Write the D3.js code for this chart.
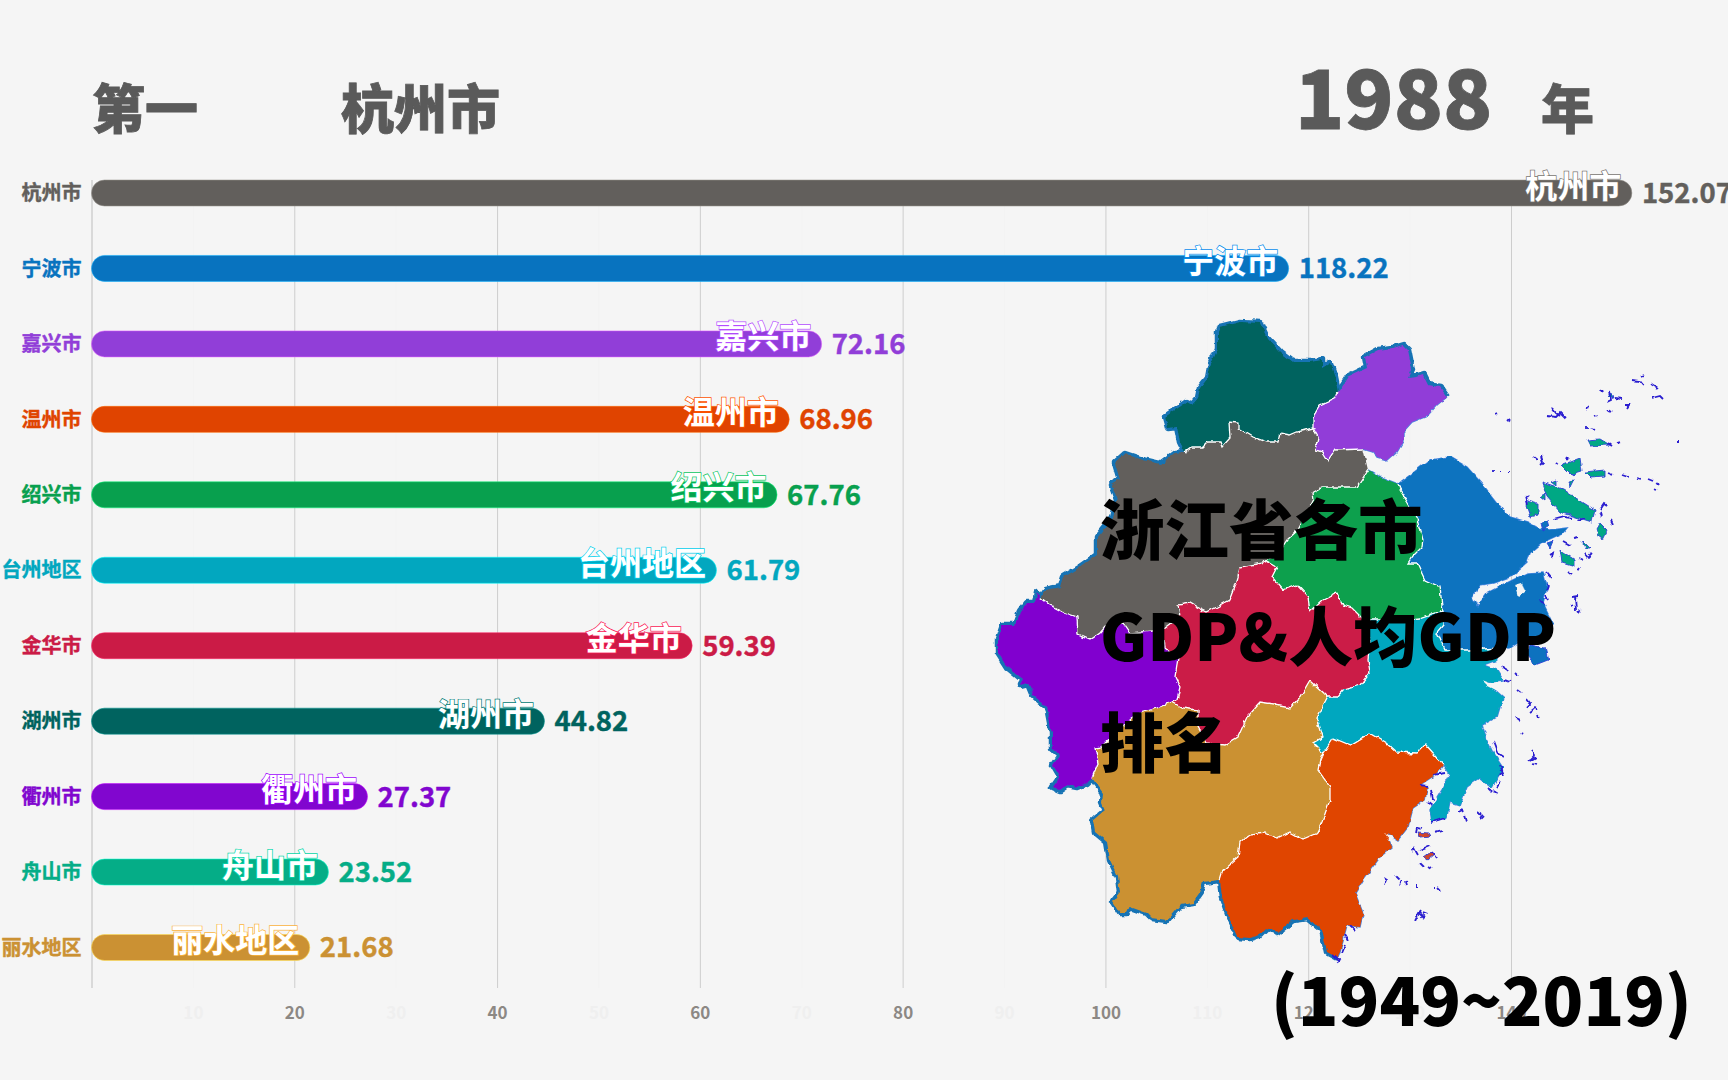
<!DOCTYPE html>
<html>
<head>
<meta charset="utf-8">
<script src="https://cdn.jsdelivr.net/npm/d3@7"></script>
<style>
  html, body { margin: 0; padding: 0; background: #f5f5f5; overflow: hidden; }
  svg { display: block; font-family: "Noto Sans CJK SC", "Noto Sans", sans-serif; }
</style>
</head>
<body>
<div id="chart"></div>
<script>
const categories = ["杭州市", "宁波市", "嘉兴市", "温州市", "绍兴市", "台州地区", "金华市", "湖州市", "衢州市", "舟山市", "丽水地区"];
const values = [152.07, 118.22, 72.16, 68.96, 67.76, 61.79, 59.39, 44.82, 27.37, 23.52, 21.68];
const colors = ["#625f5c", "#0873bf", "#913ed8", "#e04400", "#08a04e", "#02a7bf", "#cb1b46", "#00635f", "#8106cf", "#05ad87", "#cb9133"];
const majorTicks = [20, 40, 60, 80, 100, 120, 140];
const fadingTicks = [10, 30, 50, 70, 90, 110, 130];
const year = "1988";
const overlayLines = ["浙江省各市", "GDP&人均GDP", "排名"];

// map borders, each runs between two junctions so that neighbours share it
const huzhouOuter = [[1338,392],[1335,377],[1330,363],[1322,368],[1322,360],[1310,362],[1293,362],[1280,352],[1267,338],[1260,323],[1240,322],[1220,327],[1218,332],[1218,348],[1210,367],[1208,378],[1200,388],[1198,398],[1192,405],[1187,402],[1178,408],[1165,417],[1168,428],[1177,427],[1180,442],[1185,452]];
const huzhouHangzhou = [[1185,452],[1192,447],[1203,447],[1208,442],[1220,442],[1222,447],[1230,438],[1229,422],[1238,423],[1238,428],[1253,437],[1267,442],[1278,442],[1280,433],[1290,435],[1297,432],[1313,428]];
const huzhouJiaxing = [[1313,428],[1313,417],[1320,405],[1335,398],[1338,392]];
const jiaxingOuter = [[1338,392],[1348,377],[1367,368],[1365,357],[1378,350],[1393,348],[1403,345],[1408,350],[1412,370],[1408,378],[1417,377],[1423,375],[1428,385],[1440,387],[1447,397],[1437,405],[1427,416],[1412,422],[1403,432],[1403,442],[1397,452],[1387,461],[1377,458],[1373,452],[1363,449]];
const jiaxingHangzhou = [[1363,449],[1335,450],[1328,460],[1323,452],[1315,450],[1318,437],[1313,428]];
const hangzhouCoast = [[1363,449],[1368,470]];
const hangzhouShaoxing = [[1368,470],[1357,487],[1333,487],[1323,487],[1312,493],[1313,500],[1298,530],[1287,540],[1277,555],[1265,560]];
const hangzhouJinhua = [[1265,560],[1263,563],[1240,567],[1238,577],[1235,587],[1230,600],[1217,607],[1207,612],[1197,607],[1190,603],[1178,605],[1180,617],[1163,630]];
const hangzhouQuzhou = [[1163,630],[1130,633],[1123,623],[1105,627],[1100,633],[1090,640],[1078,635],[1077,617],[1063,612],[1050,605],[1040,597]];
const hangzhouOuter = [[1040,597],[1045,590],[1060,587],[1063,577],[1080,567],[1097,555],[1097,537],[1113,517],[1117,500],[1112,485],[1120,480],[1115,463],[1125,454],[1143,460],[1160,464],[1175,453],[1185,452]];
const shaoxingOuter = [[1368,470],[1380,477],[1398,484]];
const shaoxingNingbo = [[1398,484],[1400,490],[1408,503],[1418,520],[1423,540],[1422,547],[1412,557],[1408,563],[1417,563],[1425,580],[1440,587],[1442,607],[1443,610]];
const shaoxingTaizhou = [[1443,610],[1420,618],[1401,620],[1364,620]];
const shaoxingJinhua = [[1364,620],[1352,608],[1343,605],[1337,593],[1323,600],[1310,612],[1308,597],[1297,585],[1283,590],[1272,577],[1277,567],[1265,560]];
const ningboOuter = [[1398,484],[1413,473],[1430,460],[1450,457],[1467,467],[1483,485],[1497,503],[1510,517],[1527,522],[1538,528],[1550,530],[1567,528],[1563,533],[1543,542],[1530,553],[1527,562],[1510,577],[1493,583],[1480,585],[1472,597],[1477,607],[1487,593],[1507,583],[1527,573],[1543,572],[1547,587],[1543,603],[1553,623],[1540,636],[1522,640],[1510,648],[1500,648]];
const taizhouNingbo = [[1443,610],[1443,625],[1437,632],[1445,650],[1470,650],[1500,648]];
const taizhouOuter = [[1500,648],[1497,660],[1483,665],[1497,670],[1503,680],[1487,683],[1503,697],[1497,717],[1482,725],[1487,740],[1493,753],[1503,768],[1492,787],[1480,778],[1467,787],[1460,805],[1450,802],[1447,817],[1432,822],[1430,810],[1442,790],[1450,775],[1443,765]];
const taizhouWenzhou = [[1443,765],[1425,745],[1417,753],[1397,752],[1387,743],[1370,733],[1350,745],[1333,738],[1323,753]];
const taizhouLishui = [[1323,753],[1313,743],[1323,737],[1317,718],[1328,697]];
const taizhouJinhua = [[1328,697],[1337,697],[1343,690],[1360,685],[1370,672],[1368,660],[1370,640],[1364,620]];
const wenzhouOuter = [[1443,765],[1435,775],[1420,785],[1427,787],[1425,800],[1413,808],[1408,827],[1398,840],[1387,833],[1392,847],[1380,857],[1363,880],[1355,893],[1363,913],[1360,927],[1347,925],[1343,940],[1338,958],[1327,952],[1322,930],[1307,918],[1293,920],[1278,932],[1267,928],[1260,935],[1250,938],[1238,937],[1230,920],[1222,897],[1220,880]];
const wenzhouLishui = [[1220,880],[1223,870],[1238,857],[1240,843],[1250,835],[1265,833],[1277,838],[1290,832],[1303,839],[1317,833],[1322,822],[1330,800],[1330,787],[1318,770],[1320,760],[1323,753]];
const lishuiOuter = [[1220,880],[1203,882],[1200,893],[1193,903],[1180,905],[1167,920],[1152,918],[1147,913],[1130,907],[1127,913],[1120,913],[1113,902],[1120,893],[1118,877],[1110,860],[1107,842],[1095,832],[1093,820],[1105,810],[1102,803],[1103,793],[1092,778]];
const lishuiQuzhou = [[1092,778],[1098,763],[1095,748],[1102,747],[1125,725],[1140,713],[1157,708],[1172,702]];
const lishuiJinhua = [[1172,702],[1183,708],[1198,710],[1198,727],[1207,743],[1225,745],[1238,737],[1247,717],[1260,703],[1280,706],[1290,708],[1300,697],[1310,680],[1328,697]];
const jinhuaQuzhou = [[1163,630],[1165,647],[1178,658],[1175,677],[1180,688],[1177,700],[1172,702]];
const quzhouOuter = [[1092,778],[1087,783],[1077,787],[1067,785],[1060,790],[1053,787],[1060,777],[1053,765],[1060,755],[1052,748],[1052,733],[1047,707],[1033,695],[1028,683],[1020,685],[1023,680],[1007,667],[998,653],[998,640],[1003,625],[1015,625],[1020,612],[1027,603],[1035,603],[1037,593],[1040,597]];

// Zhoushan and the other bigger islands
const tealIslands = [
  [[1542,483],[1563,490],[1595,510],[1592,522],[1560,512],[1547,497]],
  [[1528,500],[1538,503],[1538,515],[1530,517],[1526,505]],
  [[1562,465],[1580,458],[1582,472],[1572,475]],
  [[1587,440],[1600,439],[1610,445],[1590,446]],
  [[1585,472],[1605,470],[1605,476],[1590,477]],
  [[1600,523],[1607,530],[1602,540],[1596,530]],
  [[1582,540],[1590,548],[1586,548]],
  [[1560,550],[1575,560],[1575,566],[1562,562]],
  [[1540,496],[1545,494],[1545,500]],
  [[1551,482],[1556,480],[1556,486]],
  [[1569,481],[1575,480],[1571,488]],
  [[1608,397],[1612,392],[1614,398]]
];
const blueIslands = [
  [[1530,645],[1545,648],[1548,660],[1535,665],[1527,655]],
  [[1541,522],[1547,520],[1549,527],[1543,530]],
  [[1547,543],[1553,541],[1550,548]]
];
const redIslands = [
  [[1418,832],[1428,833],[1430,836],[1420,837]],
  [[1424,857],[1431,852],[1434,855],[1428,860]]
];
const bays = [
  [[1515,585],[1522,583],[1525,592],[1518,597]],
  [[1482,680],[1490,683],[1502,690],[1498,691],[1488,686]],
  [[1384,833],[1392,837],[1396,842],[1390,840]]
];
const speckles = [
  [[1632,380],[1640,381],[1644,386]],[[1642,376],[1644,375]],[[1650,383],[1658,388]],[[1652,398],[1660,396],[1663,399]],
  [[1601,390],[1602,392]],[[1610,390],[1612,400],[1608,402]],[[1615,398],[1622,399]],[[1625,405],[1629,405],[1627,408]],
  [[1587,410],[1589,407]],[[1595,417],[1598,416]],[[1607,410],[1610,412]],[[1552,408],[1556,413],[1560,416]],
  [[1548,416],[1556,417],[1560,413],[1565,418]],[[1495,414],[1497,413]],[[1508,421],[1510,419]],[[1585,428],[1589,428]],
  [[1592,428],[1594,429]],[[1608,443],[1612,446]],[[1617,443],[1620,442]],[[1678,442],[1679,442]],
  [[1533,457],[1537,460]],[[1541,456],[1543,462],[1540,465]],[[1556,463],[1558,465]],[[1567,460],[1568,458]],
  [[1493,469],[1493,472]],[[1500,471],[1501,471]],[[1509,472],[1510,472]],[[1608,473],[1613,475]],[[1622,475],[1628,477]],
  [[1637,478],[1641,479]],[[1647,478],[1652,480]],[[1657,482],[1659,485]],[[1654,490],[1657,491]],
  [[1525,498],[1528,495]],[[1527,505],[1525,497]],[[1600,510],[1604,504],[1607,506]],[[1602,516],[1600,512]],
  [[1553,520],[1565,517],[1573,518]],[[1578,520],[1585,518]],[[1611,520],[1613,524]],[[1573,538],[1578,537]],
  [[1563,542],[1570,546]],[[1585,553],[1588,557],[1592,553]],[[1578,558],[1583,560]],[[1580,567],[1578,570]],
  [[1550,555],[1553,553],[1552,558]],[[1568,572],[1572,575]],[[1572,598],[1578,597]],[[1573,605],[1570,606]],
  [[1575,598],[1576,610]],[[1578,610],[1580,612]],[[1546,572],[1551,578]],[[1548,585],[1546,590]],[[1546,596],[1548,600]],
  [[1540,600],[1544,604]],[[1503,665],[1508,672]],[[1505,680],[1510,682]],[[1515,672],[1518,675]],[[1518,690],[1522,693]],
  [[1526,708],[1530,704],[1527,700]],[[1530,712],[1535,708],[1538,710]],[[1515,718],[1520,720]],[[1537,715],[1538,718]],
  [[1522,733],[1523,734]],[[1532,750],[1535,755],[1530,760]],[[1528,762],[1536,757]],[[1533,764],[1537,765]],
  [[1493,742],[1498,755]],[[1497,753],[1503,757]],[[1500,765],[1504,775]],[[1498,775],[1502,772]],[[1500,782],[1497,786]],
  [[1488,788],[1492,792]],[[1493,790],[1498,794]],[[1433,775],[1445,773]],[[1420,785],[1427,786]],[[1431,790],[1433,800]],
  [[1432,805],[1428,802]],[[1458,812],[1463,810]],[[1465,815],[1467,822]],[[1462,808],[1464,812]],[[1478,812],[1481,815]],
  [[1480,818],[1483,815]],[[1432,822],[1445,818]],[[1416,833],[1417,828],[1421,829]],[[1434,832],[1442,830]],
  [[1412,852],[1414,848],[1418,855]],[[1420,850],[1430,846]],[[1432,852],[1436,858]],[[1420,862],[1424,866]],
  [[1428,866],[1431,868]],[[1384,878],[1387,880],[1385,885]],[[1395,875],[1400,880]],[[1400,885],[1402,882]],
  [[1406,882],[1407,885]],[[1416,886],[1417,886]],[[1434,888],[1436,888]],[[1438,887],[1441,890]],
  [[1417,915],[1420,910]],[[1415,920],[1419,912],[1425,918]],[[1422,912],[1427,914]],[[1350,925],[1355,930]],
  [[1345,935],[1348,940]],[[1345,945],[1342,952]],[[1333,955],[1340,962]]
];

const rev = (a) => a.slice().reverse();
const regions = [
  { name: "湖州市", ring: [huzhouOuter, huzhouHangzhou, huzhouJiaxing] },
  { name: "嘉兴市", ring: [jiaxingOuter, jiaxingHangzhou, huzhouJiaxing] },
  { name: "杭州市", ring: [hangzhouOuter, huzhouHangzhou, rev(jiaxingHangzhou), hangzhouCoast, hangzhouShaoxing, hangzhouJinhua, hangzhouQuzhou] },
  { name: "绍兴市", ring: [shaoxingOuter, shaoxingNingbo, shaoxingTaizhou, shaoxingJinhua, rev(hangzhouShaoxing)] },
  { name: "宁波市", ring: [ningboOuter, rev(taizhouNingbo), rev(shaoxingNingbo)] },
  { name: "台州地区", ring: [taizhouNingbo, taizhouOuter, taizhouWenzhou, taizhouLishui, taizhouJinhua, rev(shaoxingTaizhou)] },
  { name: "金华市", ring: [rev(hangzhouJinhua), rev(shaoxingJinhua), rev(taizhouJinhua), rev(lishuiJinhua), rev(jinhuaQuzhou)] },
  { name: "衢州市", ring: [quzhouOuter, rev(hangzhouQuzhou), jinhuaQuzhou, rev(lishuiQuzhou)] },
  { name: "丽水地区", ring: [lishuiOuter, lishuiQuzhou, lishuiJinhua, rev(taizhouLishui), rev(wenzhouLishui)] },
  { name: "温州市", ring: [wenzhouOuter, wenzhouLishui, rev(taizhouWenzhou)] }
];
const innerBorders = [huzhouHangzhou, huzhouJiaxing, jiaxingHangzhou, hangzhouShaoxing, hangzhouJinhua, hangzhouQuzhou, shaoxingNingbo, shaoxingTaizhou, shaoxingJinhua, taizhouNingbo, taizhouWenzhou, taizhouLishui, taizhouJinhua, wenzhouLishui, lishuiQuzhou, lishuiJinhua, jinhuaQuzhou];
const landBorders = [huzhouOuter, hangzhouOuter, quzhouOuter, lishuiOuter, jiaxingOuter.slice(0, 15), wenzhouOuter.slice(17)];
const coastBorders = [jiaxingOuter.slice(14), ningboOuter, taizhouOuter, shaoxingOuter, wenzhouOuter.slice(0, 18)];

const width = 1728;
const height = 1080;
const colorOf = d3.scaleOrdinal().domain(categories).range(colors);

const x = d3.scaleLinear().domain([0, 140]).range([91.5, 1511]);
const y = d3.scalePoint().domain(categories).range([193, 947.5]);
const barHeight = 26;

const svg = d3.select("#chart").append("svg")
  .attr("width", width)
  .attr("height", height);

svg.append("rect").attr("width", width).attr("height", height).attr("fill", "#f5f5f5");

// rough edge for the hand traced map
const rough = svg.append("defs").append("filter")
  .attr("id", "rough")
  .attr("filterUnits", "userSpaceOnUse")
  .attr("x", 960).attr("y", 300).attr("width", 768).attr("height", 700);
rough.append("feTurbulence")
  .attr("type", "fractalNoise")
  .attr("baseFrequency", 0.13)
  .attr("numOctaves", 2)
  .attr("seed", 4)
  .attr("result", "n");
rough.append("feDisplacementMap")
  .attr("in", "SourceGraphic")
  .attr("in2", "n")
  .attr("scale", 5)
  .attr("xChannelSelector", "R")
  .attr("yChannelSelector", "G");

// gridlines and tick labels
const axis = svg.append("g")
  .attr("transform", "translate(0,988)")
  .call(d3.axisBottom(x)
    .tickValues([0].concat(fadingTicks, majorTicks))
    .tickSize(-808)
    .tickPadding(19)
    .tickFormat((d) => (d === 0 ? "" : d)));
axis.select(".domain").remove();
axis.selectAll(".tick line")
  .attr("stroke", (d) => (fadingTicks.includes(d) ? "#f3f3f3" : d === 0 ? "#bdbdbd" : "#cdcdcd"))
  .attr("stroke-width", 1);
axis.selectAll(".tick text")
  .attr("font-family", '"Noto Sans CJK SC", sans-serif')
  .attr("font-size", 17)
  .attr("font-weight", 700)
  .attr("fill", (d) => (fadingTicks.includes(d) ? "#efefef" : "#8c8884"));

// bars
svg.append("g").selectAll("rect")
  .data(categories)
  .join("rect")
  .attr("x", x(0))
  .attr("y", (d) => y(d) - barHeight / 2)
  .attr("width", (d, i) => x(values[i]) - x(0) - 1.5)
  .attr("height", barHeight)
  .attr("rx", barHeight / 2)
  .attr("fill", (d) => colorOf(d))
  .attr("stroke", (d) => d3.color(colorOf(d)).brighter(1.2))
  .attr("stroke-opacity", 0.55)
  .attr("stroke-width", 1);

// category labels on the left
svg.append("g").selectAll("text")
  .data(categories)
  .join("text")
  .attr("x", x(0) - 10)
  .attr("y", (d) => y(d))
  .attr("dy", "0.36em")
  .attr("text-anchor", "end")
  .attr("font-size", 20)
  .attr("font-weight", 700)
  .attr("fill", (d) => colorOf(d))
  .attr("stroke", (d) => colorOf(d))
  .attr("stroke-width", 0.4)
  .text((d) => d);

// the map
const line = d3.line();
const map = svg.append("g").attr("filter", "url(#rough)");
map.selectAll(".land")
  .data(landBorders)
  .join("path")
  .attr("class", "land")
  .attr("d", line)
  .attr("fill", "none")
  .attr("stroke", "#1873b4")
  .attr("stroke-width", 6.5)
  .attr("stroke-linejoin", "round");
map.selectAll(".coast")
  .data(coastBorders)
  .join("path")
  .attr("class", "coast")
  .attr("d", line)
  .attr("fill", "none")
  .attr("stroke", "#4a86e0")
  .attr("stroke-width", 1.5);
map.selectAll(".region")
  .data(regions)
  .join("path")
  .attr("class", "region")
  .attr("d", (d) => line(d.ring.flat()) + "Z")
  .attr("fill", (d) => colorOf(d.name));
map.selectAll(".bay")
  .data(bays)
  .join("path")
  .attr("class", "bay")
  .attr("d", (d) => line(d) + "Z")
  .attr("fill", "#f5f5f5");
map.selectAll(".inner")
  .data(innerBorders)
  .join("path")
  .attr("class", "inner")
  .attr("d", line)
  .attr("fill", "none")
  .attr("stroke", "#ffffff")
  .attr("stroke-width", 1.3);
const islandGroups = [[tealIslands, "#05a884"], [blueIslands, "#0b72bf"], [redIslands, "#d0452a"]];
islandGroups.forEach(([shapes, fill]) => {
  map.append("g").selectAll("path")
    .data(shapes)
    .join("path")
    .attr("d", (d) => line(d) + "Z")
    .attr("fill", fill)
    .attr("stroke", "#2d3fd8")
    .attr("stroke-width", 0.9);
});
map.append("g").selectAll("path")
  .data(speckles)
  .join("path")
  .attr("d", line)
  .attr("fill", "none")
  .attr("stroke", "#2a1fd0")
  .attr("stroke-width", 1.8);

// names inside the bars
svg.append("g").selectAll("text")
  .data(categories)
  .join("text")
  .attr("x", (d, i) => x(values[i]) - 12)
  .attr("y", (d) => y(d) - 7)
  .attr("dy", "0.36em")
  .attr("text-anchor", "end")
  .attr("font-size", 32)
  .attr("font-weight", 700)
  .attr("fill", "#ffffff")
  .attr("stroke", (d) => d3.color(colorOf(d)).brighter(0.6))
  .attr("stroke-width", 1.4)
  .attr("paint-order", "stroke")
  .text((d) => d);

// values after the bars
svg.append("g").selectAll("text")
  .data(categories)
  .join("text")
  .attr("x", (d, i) => x(values[i]) + 8.5)
  .attr("y", (d) => y(d))
  .attr("dy", "0.36em")
  .attr("font-size", 27.5)
  .attr("font-weight", 700)
  .attr("fill", (d) => colorOf(d))
  .attr("stroke", (d) => colorOf(d))
  .attr("stroke-width", 0.4)
  .text((d, i) => values[i].toFixed(2));

// header
const header = svg.append("g").attr("fill", "#5a5a5a").attr("stroke", "#5a5a5a").attr("stroke-width", 0.8).attr("font-weight", 900);
header.append("text").attr("x", 92).attr("y", 110).attr("dy", "0.36em").attr("font-size", 53).text("第一");
header.append("text").attr("x", 341).attr("y", 110).attr("dy", "0.36em").attr("font-size", 53).text(categories[0]);
header.append("text").attr("x", 1295).attr("y", 100).attr("dy", "0.36em").attr("font-size", 81).text(year);
header.append("text").attr("x", 1541).attr("y", 110).attr("dy", "0.36em").attr("font-size", 53).text("年");

// black overlay title
const overlayY = d3.scalePoint().domain(overlayLines).range([531, 744]);
svg.append("g").selectAll("text")
  .data(overlayLines)
  .join("text")
  .attr("x", 1100)
  .attr("y", (d) => overlayY(d))
  .attr("dy", "0.36em")
  .attr("font-size", 64.5)
  .attr("font-weight", 900)
  .attr("fill", "#000")
  .text((d) => d);
svg.append("text")
  .attr("x", 1271)
  .attr("y", 1002)
  .attr("dy", "0.36em")
  .attr("font-size", 67)
  .attr("font-weight", 900)
  .attr("fill", "#000")
  .text("(1949~2019)");
</script>
</body>
</html>
